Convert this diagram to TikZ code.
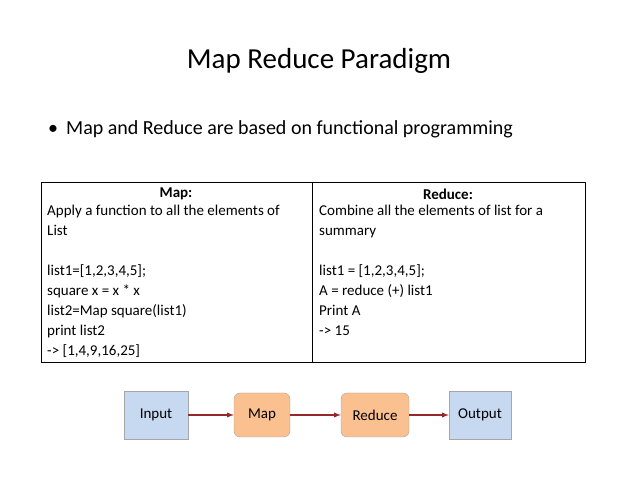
\documentclass[tikz,border=0pt]{standalone}
\usepackage{fontspec}
\setmainfont{Carlito}
\begin{document}
\begin{tikzpicture}[x=1pt,y=-1pt,
  cell/.style={anchor=north west,align=left,inner sep=0pt,font=\fontsize{15}{20}\selectfont},
  blue box/.style={draw=gray!70,fill=blue!10!cyan!15!white,fill={rgb,255:red,198;green,217;blue,241},minimum width=64,minimum height=48,font=\fontsize{15}{18}\selectfont},
  orange box/.style={draw=gray!70,fill={rgb,255:red,250;green,192;blue,144},rounded corners=6,minimum width=56,minimum height=44,font=\fontsize{15}{18}\selectfont},
  flow/.style={draw={rgb,255:red,150;green,40;blue,40},line width=1.3,-latex}]
\useasboundingbox (0,0) rectangle (638,478);
\node[font=\fontsize{29}{34}\selectfont] (title) at (319,61) {Map Reduce Paradigm};
\node[anchor=west,inner sep=0pt,font=\fontsize{20}{24}\selectfont] (bullet) at (48,129) {\textbullet\hspace{8pt}Map and Reduce are based on functional programming};
\draw[line width=0.8] (41,182) rectangle (585,362);
\draw[line width=0.8] (312,182) -- (312,362);
\node[font=\fontsize{15}{20}\selectfont\bfseries] (maph) at (176,194) {Map:};
\node[font=\fontsize{15}{20}\selectfont\bfseries] (redh) at (448,194) {Reduce:};
\node[cell] (mapt) at (47,205) {Apply a function to all the elements of\\List\\[20pt]list1=[1,2,3,4,5];\\square x = x * x\\list2=Map square(list1)\\print list2\\-> [1,4,9,16,25]};
\node[cell] (redt) at (319,205) {Combine all the elements of list for a\\summary\\[20pt]list1 = [1,2,3,4,5];\\A = reduce (+) list1\\Print A\\-> 15};
\node[blue box] (in) at (156,415) {Input};
\node[orange box] (map) at (262,415) {Map};
\node[orange box,minimum width=68] (red) at (375,415) {Reduce};
\node[blue box,minimum width=62] (out) at (480,415) {Output};
\draw[flow] (in) -- (map);
\draw[flow] (map) -- (red);
\draw[flow] (red) -- (out);
\end{tikzpicture}
\end{document}
